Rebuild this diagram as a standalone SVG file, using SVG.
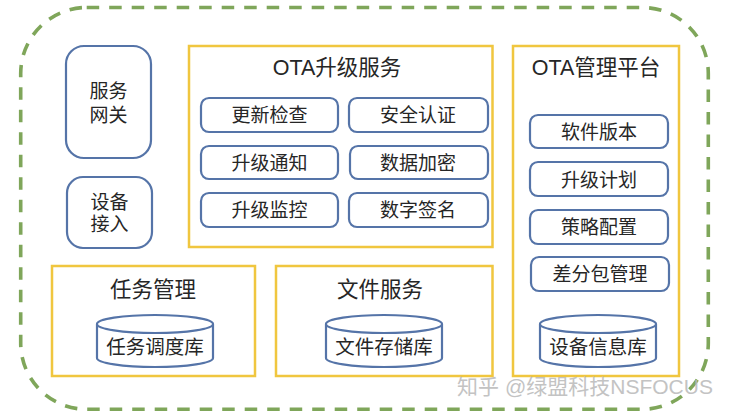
<svg xmlns="http://www.w3.org/2000/svg" width="730" height="417" viewBox="0 0 730 417">
<style>
text{font-family:"Liberation Sans","Noto Sans CJK SC",sans-serif;fill:#262626;text-anchor:middle}
.b{fill:#fff;stroke:#F0C63F;stroke-width:2.5}
.n{fill:#fff;stroke:#5574A8;stroke-width:2.2}
.t{font-size:21.5px}
.l{font-size:19px}
.c{font-size:19.5px}
</style>
<rect width="730" height="417" fill="#fff"/>
<g id="connectors"></g>
<rect id="outer" x="20.7" y="7.5" width="687.6" height="401.8" rx="66" ry="66" fill="none" stroke="#7FA65A" stroke-width="3.600" stroke-dasharray="12.5 10"/>
<g id="gateway"><rect class="n" x="66" y="46" width="85" height="112" rx="18"/><text class="l" x="108.500" y="98">服务</text><text class="l" x="108.500" y="122">网关</text></g>
<g id="access"><rect class="n" x="67" y="177" width="85" height="71" rx="16"/><text class="l" x="109.500" y="209">设备</text><text class="l" x="109.500" y="231">接入</text></g>
<g id="ota"><rect class="b" x="189" y="46" width="303.500" height="201"/><text class="t" x="337" y="75">OTA升级服务</text></g>
<g id="n1"><rect class="n" x="201" y="98" width="137" height="34" rx="8"/><text class="l" x="269.500" y="122">更新检查</text></g>
<g id="n2"><rect class="n" x="349" y="98" width="139" height="34" rx="8"/><text class="l" x="418" y="122">安全认证</text></g>
<g id="n3"><rect class="n" x="201" y="146" width="137" height="33" rx="8"/><text class="l" x="269.500" y="170">升级通知</text></g>
<g id="n4"><rect class="n" x="350" y="146" width="138" height="33" rx="8"/><text class="l" x="418" y="170">数据加密</text></g>
<g id="n5"><rect class="n" x="201" y="193" width="137" height="34" rx="8"/><text class="l" x="269.500" y="217">升级监控</text></g>
<g id="n6"><rect class="n" x="349" y="193" width="139" height="34" rx="8"/><text class="l" x="418" y="217">数字签名</text></g>
<g id="platform"><rect class="b" x="513" y="46" width="166" height="330"/><text class="t" x="596" y="75">OTA管理平台</text></g>
<g id="p1"><rect class="n" x="530" y="115" width="138" height="33" rx="8"/><text class="l" x="599" y="139">软件版本</text></g>
<g id="p2"><rect class="n" x="530" y="162" width="138" height="34" rx="8"/><text class="l" x="599" y="187">升级计划</text></g>
<g id="p3"><rect class="n" x="530" y="210" width="138" height="34" rx="8"/><text class="l" x="599" y="234">策略配置</text></g>
<g id="p4"><rect class="n" x="531" y="257" width="138" height="34" rx="8"/><text class="l" x="600" y="281">差分包管理</text></g>
<g id="task"><rect class="b" x="52" y="266" width="203" height="110"/><text class="t" x="153" y="297">任务管理</text></g>
<g id="file"><rect class="b" x="276" y="266" width="216.500" height="110"/><text class="t" x="380" y="297">文件服务</text></g>
<g id="db1"><path class="n" d="M97 324V358C97 363 123 367 155 367S213 363 213 358V324C213 319 187 315 155 315S97 319 97 324C97 329 123 333 155 333S213 329 213 324"/><text class="c" x="155" y="354">任务调度库</text></g>
<g id="db2"><path class="n" d="M326 324V358C326 363 352 367 384 367S442 363 442 358V324C442 319 416 315 384 315S326 319 326 324C326 329 352 333 384 333S442 329 442 324"/><text class="c" x="384" y="354">文件存储库</text></g>
<g id="db3"><path class="n" d="M540 324V358C540 363 566 367 598 367S656 363 656 358V324C656 319 630 315 598 315S540 319 540 324C540 329 566 333 598 333S656 329 656 324"/><text class="c" x="598" y="354">设备信息库</text></g>
<text id="watermark" x="585" y="394" font-size="21" style="fill:#b9b9b9;opacity:.85">知乎 @绿盟科技NSFOCUS</text>
</svg>
